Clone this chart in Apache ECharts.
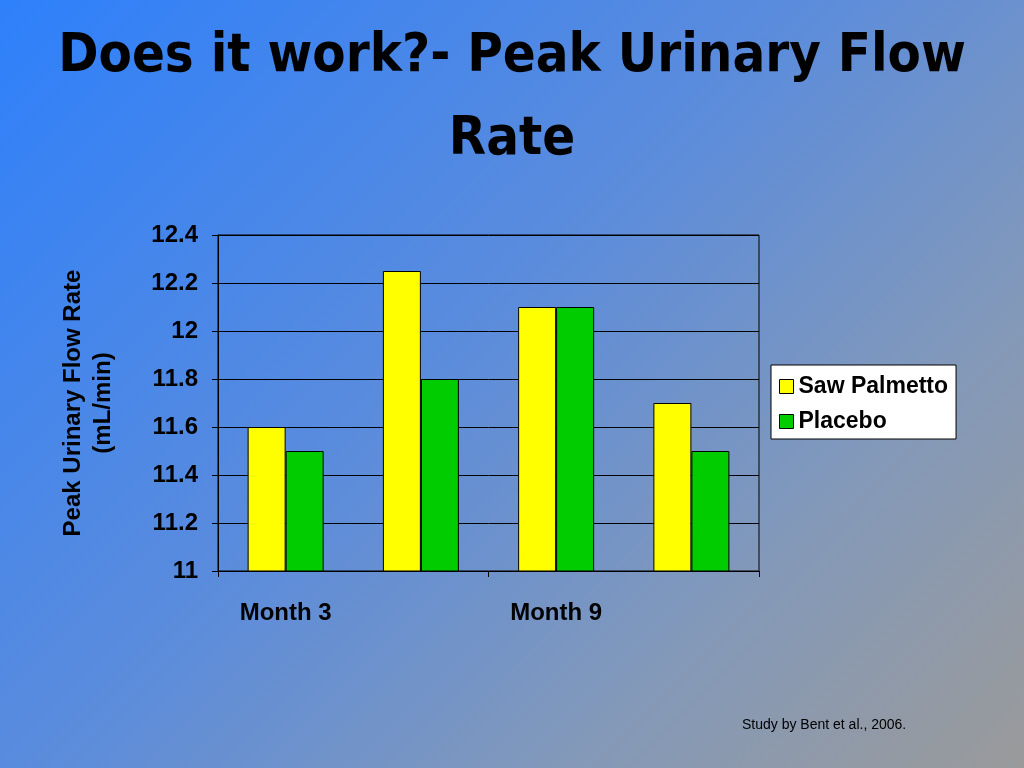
<!DOCTYPE html>
<html><head><meta charset="utf-8">
<script src="https://cdn.jsdelivr.net/npm/echarts@6/dist/echarts.min.js"></script>
<style>
html,body{margin:0;padding:0;width:1024px;height:768px;overflow:hidden;
background:linear-gradient(135deg,#2e80fb 0%,#5b8cdc 45%,#8499b8 75%,#9a9a9a 100%);}
#c{width:1024px;height:768px;}
</style></head><body><div id="c"></div>
<script>
const categories=['Month 3','Month 6','Month 9','Month 12'];
const sawPalmetto=[11.6,12.25,12.1,11.7];
const placebo=[11.5,11.8,12.1,11.5];
const chart=echarts.init(document.getElementById('c'));
const lbl={fontFamily:'Liberation Sans',fontWeight:'bold',fontSize:24,color:'#000'};
chart.setOption({
 title:[{text:'Does it work?- Peak Urinary Flow\nRate',left:'center',top:10,
  textStyle:{fontFamily:'DejaVu Sans Condensed',fontSize:54,fontWeight:'bold',color:'#000',lineHeight:83}},
  {text:'Study by Bent et al., 2006.',left:737,top:713,textStyle:{fontFamily:'Liberation Sans',fontSize:14,fontWeight:'normal',color:'#000'}}],
 grid:{left:218,top:235,width:541,height:336,show:true,borderColor:'#000',borderWidth:1,backgroundColor:'transparent'},
 legend:{left:771,top:365,width:203,height:74,orient:'vertical',backgroundColor:'#fff',borderColor:'#000',borderWidth:1,
  padding:[10,8,6,8],itemGap:12,itemWidth:14,itemHeight:14,icon:'rect',itemStyle:{borderColor:'#000',borderWidth:1},
  textStyle:{...lbl,fontSize:23}},
 xAxis:{type:'category',data:categories,axisLine:{lineStyle:{color:'#000'}},
  axisTick:{show:true,length:6,lineStyle:{color:'#000'}},axisLabel:{...lbl,margin:30}},
 yAxis:{type:'value',min:11,max:12.4,interval:0.2,
  name:'Peak Urinary Flow Rate\n(mL/min)',nameLocation:'middle',nameGap:100,nameRotate:90,
  nameTextStyle:{...lbl,lineHeight:30},
  axisLine:{show:true,lineStyle:{color:'#000'}},axisTick:{show:true,length:6,lineStyle:{color:'#000'}},
  splitLine:{lineStyle:{color:'#000'}},
  axisLabel:{...lbl,margin:20,formatter:v=>String(+v.toFixed(1))}},
 series:[
  {name:'Saw Palmetto',type:'bar',data:sawPalmetto,barWidth:38,barGap:'0%',
   itemStyle:{color:'#ffff00',borderColor:'#000',borderWidth:1}},
  {name:'Placebo',type:'bar',data:placebo,barWidth:38,
   itemStyle:{color:'#00cc00',borderColor:'#000',borderWidth:1}}]
});
</script></body></html>
